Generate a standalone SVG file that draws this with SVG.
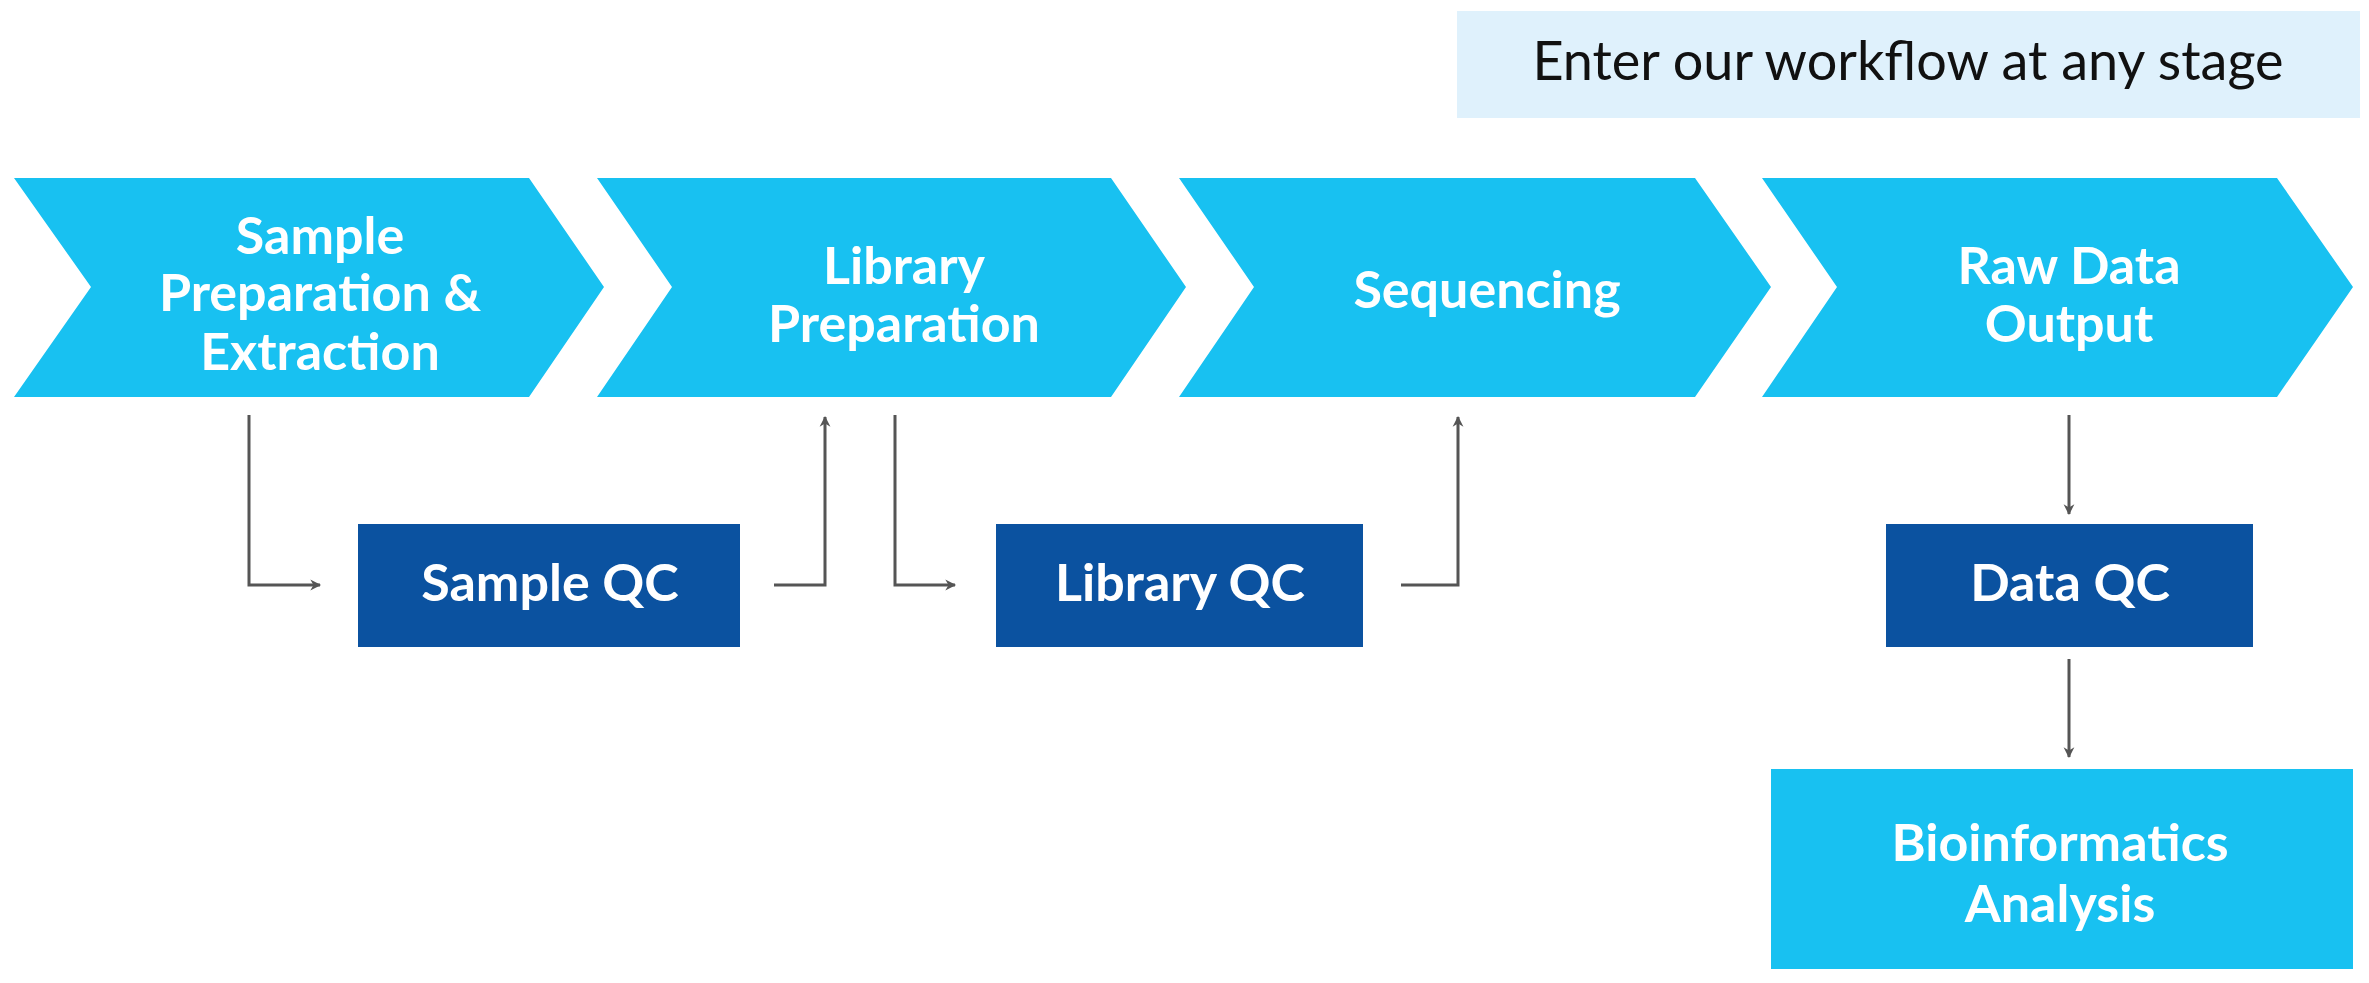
<svg xmlns="http://www.w3.org/2000/svg" width="2369" height="983" viewBox="0 0 2369 983">
<style>
.chev{fill:#18C1F1}
.qc{fill:#0B52A0}
.t{font-family:Lato,"Open Sans",sans-serif;font-weight:700;font-size:52px;fill:#fff;text-anchor:middle}
.c{fill:none;stroke:#555;stroke-width:3;marker-end:url(#a)}
</style>
<defs><marker id="a" viewBox="0 0 10 10" refX="9" refY="5" markerWidth="6" markerHeight="6" markerUnits="userSpaceOnUse" orient="auto" style="overflow:visible"><path d="M0,0 L10,5 L0,10 L3,5 Z" fill="#555" transform="scale(1.8) translate(-4,-2.2)"/></marker></defs>
<rect width="2369" height="983" fill="#fff"/>
<g id="banner"><rect x="1457" y="11" width="903" height="107" fill="#DFF1FC"/><text x="1908" y="80" font-family="Lato,'Open Sans',sans-serif" font-size="54" text-anchor="middle" fill="#111">Enter our workflow at any stage</text></g>
<g id="n1"><polygon class="chev" points="14,178 529,178 604,287 529,397 14,397 91,287"/><text class="t"><tspan x="320" y="254">Sample</tspan><tspan x="320" y="311">Preparation &amp;</tspan><tspan x="320" y="370">Extraction</tspan></text></g>
<g id="n2"><polygon class="chev" points="597,178 1111,178 1186,287 1111,397 597,397 672,287"/><text class="t"><tspan x="904" y="284">Library</tspan><tspan x="904" y="342">Preparation</tspan></text></g>
<g id="n3"><polygon class="chev" points="1179,178 1695,178 1771,287 1695,397 1179,397 1254,287"/><text class="t" x="1487" y="308">Sequencing</text></g>
<g id="n4"><polygon class="chev" points="1762,178 2277,178 2353,287 2277,397 1762,397 1837,287"/><text class="t"><tspan x="2069" y="284">Raw Data</tspan><tspan x="2069" y="342">Output</tspan></text></g>
<g id="n5"><rect class="qc" x="358" y="524" width="382" height="123"/><text class="t" x="550" y="601">Sample QC</text></g>
<g id="n6"><rect class="qc" x="996" y="524" width="367" height="123"/><text class="t" x="1180" y="601">Library QC</text></g>
<g id="n7"><rect class="qc" x="1886" y="524" width="367" height="123"/><text class="t" x="2070" y="601">Data QC</text></g>
<g id="n8"><rect class="chev" x="1771" y="769" width="582" height="200"/><text class="t"><tspan x="2060" y="861">Bioinformatics</tspan><tspan x="2060" y="922">Analysis</tspan></text></g>
<g id="connectors">
<path class="c" d="M249,415 V585 H320"/>
<path class="c" d="M774,585 H825 V417"/>
<path class="c" d="M895,415 V585 H955"/>
<path class="c" d="M1401,585 H1458 V417"/>
<path class="c" d="M2069,415 V514"/>
<path class="c" d="M2069,659 V757"/>
</g>
</svg>
